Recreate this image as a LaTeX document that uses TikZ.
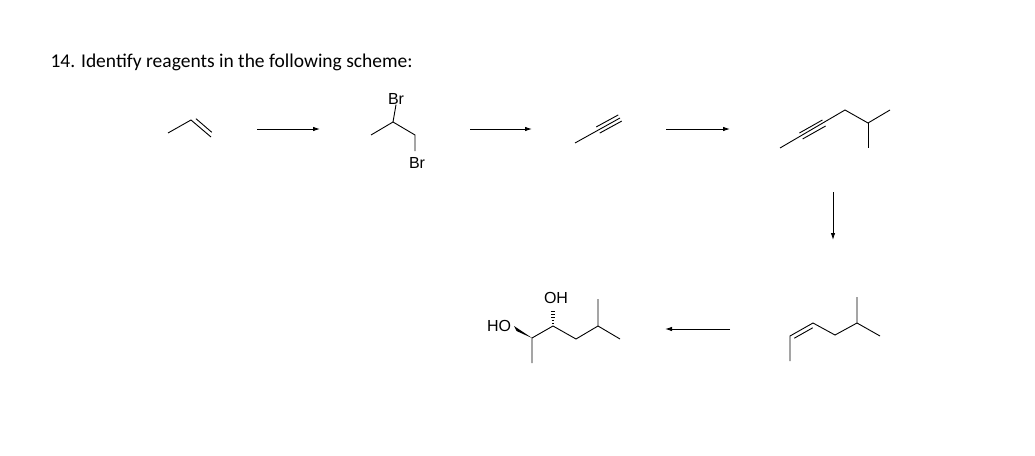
\documentclass[tikz,border=0pt]{standalone}
\usepackage{fontspec}
\setmainfont{Liberation Sans}
\newfontfamily\titlefont{Carlito}
\usetikzlibrary{arrows.meta,calc}
\begin{document}
\begin{tikzpicture}[x=1pt,y=-1pt,
  bond/.style={line width=0.9pt},
  rxn/.style={line width=0.9pt,-{Latex[length=7pt,width=4.5pt]}},
  atom/.style={font=\fontsize{16}{16}\selectfont,inner sep=0pt}]
\useasboundingbox (0,0) rectangle (1035,455);
\node[anchor=west,font=\titlefont\fontsize{19.5}{22}\selectfont] (title) at (47,62) {14. Identify reagents in the following scheme:};
% propene
\coordinate (p1) at (168,133); \coordinate (p2) at (191,120); \coordinate (p3) at (211,137);
\draw[bond] (p1)--(p2)--(p3);
\draw[bond] ($(p2)+(5,-1.3)$) -- ($(p3)+(0.8,-4.7)$);
% arrow1
\coordinate (a1s) at (257,129); \coordinate (a1e) at (320,129);
\draw[rxn] (a1s)--(a1e);
% dibromide
\coordinate (d1) at (371,135); \coordinate (d2) at (393,122); \coordinate (d3) at (415,135); \coordinate (d4) at (415,151);
\node[atom] (br1) at (396,99) {Br};
\node[atom] (br2) at (417,163) {Br};
\draw[bond] (d1)--(d2)--(d3)--(d4);
\draw[bond] (d2)--(br1.south);
% arrow2
\coordinate (a2s) at (470,129); \coordinate (a2e) at (532,129);
\draw[rxn] (a2s)--(a2e);
% propyne
\coordinate (y1) at (575,143); \coordinate (y2) at (598,130); \coordinate (y3) at (620,118);
\draw[bond] (y1)--(y3);
\draw[bond] ($(y2)+(-1.7,-3.1)$)--($(y3)+(-1.7,-3.1)$);
\draw[bond] ($(y2)+(1.7,3.1)$)--($(y3)+(1.7,3.1)$);
% arrow3
\coordinate (a3s) at (666,129); \coordinate (a3e) at (730,129);
\draw[rxn] (a3s)--(a3e);
% alkyne product
\coordinate (k1) at (780,148); \coordinate (k2) at (801,136); \coordinate (k3) at (824,123);
\coordinate (k4) at (845,110); \coordinate (k5) at (868,123); \coordinate (k6) at (890,110); \coordinate (k7) at (868,148);
\draw[bond] (k1)--(k4)--(k5)--(k6); \draw[bond] (k5)--(k7);
\draw[bond] ($(k2)+(-1.6,-3)$)--($(k3)+(-1.6,-3)$);
\draw[bond] ($(k2)+(1.6,3)$)--($(k3)+(1.6,3)$);
% down arrow
\coordinate (a4s) at (833,192); \coordinate (a4e) at (833,240);
\draw[rxn] (a4s)--(a4e);
% cis alkene
\coordinate (e1) at (790,361); \coordinate (e2) at (790,336); \coordinate (e3) at (813,323);
\coordinate (e4) at (835,335); \coordinate (e5) at (857,323); \coordinate (e6) at (857,297); \coordinate (e7) at (880,336);
\draw[bond] (e1)--(e2)--(e3)--(e4)--(e5)--(e6); \draw[bond] (e5)--(e7);
\draw[bond] ($(e2)+(4.3,2.2)$)--($(e3)+(-0.3,4.8)$);
% arrow back
\coordinate (a5s) at (730,329); \coordinate (a5e) at (665,329);
\draw[rxn] (a5s)--(a5e);
% diol
\node[atom] (ho) at (499,326) {HO};
\node[atom] (oh) at (556,298) {OH};
\coordinate (c1) at (532,338); \coordinate (c0) at (532,363); \coordinate (c2) at (553,326);
\coordinate (c3) at (576,339); \coordinate (c4) at (598,326); \coordinate (c5) at (598,299); \coordinate (c6) at (620,339);
\draw[bond] (c0)--(c1)--(c2)--(c3)--(c4)--(c5); \draw[bond] (c4)--(c6);
\fill (c1) -- (514,326) -- (516.5,331) -- cycle;
\foreach \t in {0.15,0.32,0.49,0.66,0.83} {
  \draw[line width=0.8pt] ($(c2)!\t!(553,308)+(-1-\t*1.5,0)$) -- ($(c2)!\t!(553,308)+(1+\t*1.5,0)$);
}
\end{tikzpicture}
\end{document}
